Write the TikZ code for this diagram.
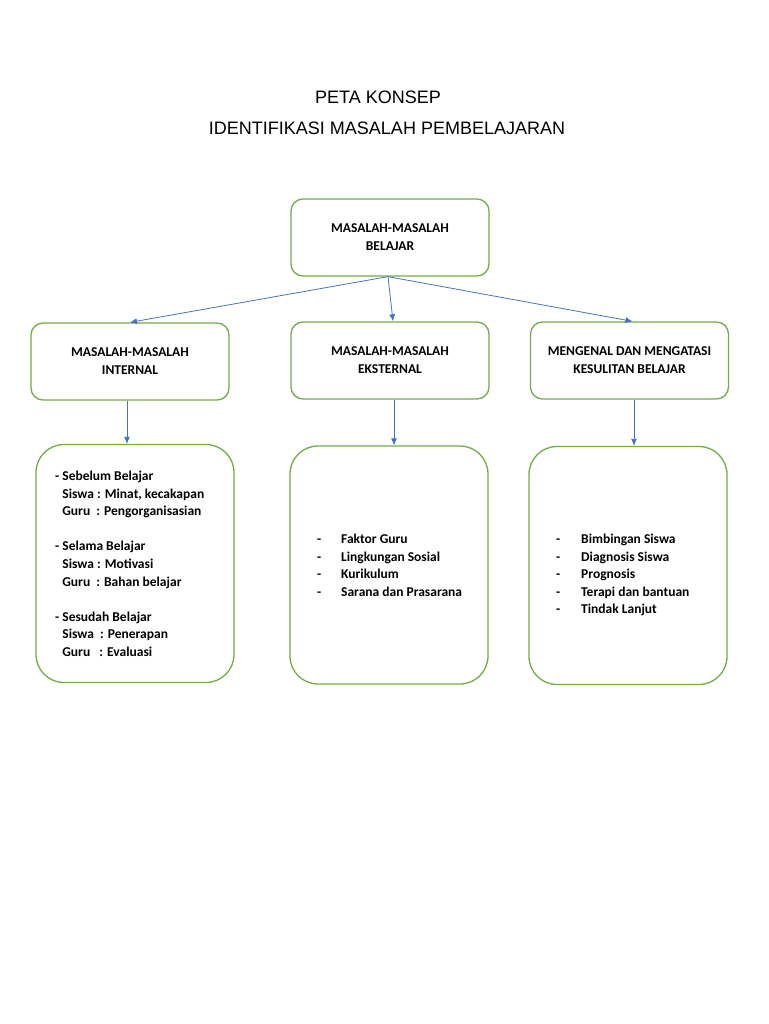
\documentclass[tikz,border=0pt]{standalone}
\usepackage{fontspec}
\setmainfont{Carlito}
\newfontfamily\judulfont{Liberation Sans}
\usetikzlibrary{arrows.meta}
\definecolor{hijau}{RGB}{112,173,71}
\definecolor{biru}{RGB}{68,114,196}
\tikzset{
  kotak/.style={draw=hijau,line width=1.3pt,rounded corners=12pt,minimum width=198pt,minimum height=77pt,align=center,font=\bfseries\fontsize{13.5}{18}\selectfont},
  kotakbesar/.style={draw=hijau,line width=1.3pt,rounded corners=28pt,minimum width=198pt,minimum height=238pt},
  panah/.style={draw=biru,line width=0.8pt,-{Latex[length=7pt,width=6pt]}},
  daftar/.style={anchor=north west,inner sep=0pt,align=left,font=\bfseries\fontsize{13.5}{17.6}\selectfont},
  judul/.style={font=\judulfont\fontsize{18}{22}\selectfont}
}
\begin{document}
\begin{tikzpicture}[x=1pt,y=-1pt]
\useasboundingbox (0,0) rectangle (768,1024);

\node[judul] (judul1) at (378,97) {PETA KONSEP};
\node[judul] (judul2) at (387,128) {IDENTIFIKASI MASALAH PEMBELAJARAN};

\node[kotak] (belajar) at (390,237.5) {MASALAH-MASALAH\\BELAJAR};

\node[kotak] (internal) at (130,361.5) {MASALAH-MASALAH\\INTERNAL};
\node[kotak] (eksternal) at (390,360.5) {MASALAH-MASALAH\\EKSTERNAL};
\node[kotak] (kesulitan) at (629.5,360.5) {MENGENAL DAN MENGATASI\\KESULITAN BELAJAR};

\node[kotakbesar] (isiinternal) at (135,563.5) {};
\node[kotakbesar] (isieksternal) at (389,565) {};
\node[kotakbesar] (isikesulitan) at (628,565.5) {};

% panah dari kotak atas
\coordinate (pusat) at ([xshift=-2pt]belajar.south);
\draw [panah] (pusat) -- (internal.north);
\draw [panah] (pusat) -- ([xshift=3pt]eksternal.north);
\draw [panah] (pusat) -- ([xshift=3pt]kesulitan.north);

\draw [panah] ([xshift=-3pt]internal.south) -- ([xshift=-3pt]internal.south |- isiinternal.north);
\draw [panah] ([xshift=4pt]eksternal.south) -- ([xshift=4pt]eksternal.south |- isieksternal.north);
\draw [panah] ([xshift=4.5pt]kesulitan.south) -- ([xshift=4.5pt]kesulitan.south |- isikesulitan.north);

% isi kotak bawah
\node[daftar] (daftarinternal) at (55,468) {%
\begin{tabular}{@{}l@{ }l@{}}
- & Sebelum Belajar\\
  & Siswa : Minat, kecakapan\\
  & Guru\ \ : Pengorganisasian\\[17.6pt]
- & Selama Belajar\\
  & Siswa : Motivasi\\
  & Guru\ \ : Bahan belajar\\[17.6pt]
- & Sesudah Belajar\\
  & Siswa\ \ : Penerapan\\
  & Guru\ \ \ : Evaluasi
\end{tabular}};

\node[daftar] (daftareksternal) at (317,531) {%
\begin{tabular}{@{}p{24pt}@{}l@{}}
- & Faktor Guru\\
- & Lingkungan Sosial\\
- & Kurikulum\\
- & Sarana dan Prasarana
\end{tabular}};

\node[daftar] (daftarkesulitan) at (556,531) {%
\begin{tabular}{@{}p{25pt}@{}l@{}}
- & Bimbingan Siswa\\
- & Diagnosis Siswa\\
- & Prognosis\\
- & Terapi dan bantuan\\
- & Tindak Lanjut
\end{tabular}};
\end{tikzpicture}
\end{document}
